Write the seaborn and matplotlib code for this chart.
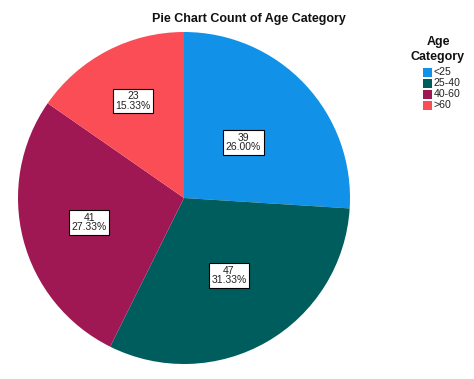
import matplotlib
matplotlib.use("Agg")
import matplotlib.pyplot as plt
import seaborn as sns
import numpy as np

categories = ["<25", "25-40", "40-60", ">60"]
counts = [39, 47, 41, 23]
colors = ["#1192E8", "#005D5D", "#9F1853", "#FA4D56"]
label_radius = [0.49, 0.54, 0.59, 0.66]

sns.set_theme(style="white")
plt.rcParams["font.family"] = ["Liberation Sans", "DejaVu Sans"]

palette = sns.color_palette(colors)
total = sum(counts)

fig = plt.figure(figsize=(4.74, 3.79), dpi=100)
W, H = 474, 379
cx, cy, r = 184, 198, 166
ax = fig.add_axes([(cx - r) / W, (H - cy - r) / H, 2 * r / W, 2 * r / H])

wedges, _ = ax.pie(counts, colors=palette, startangle=90, counterclock=False,
                   radius=1.0, wedgeprops=dict(linewidth=0))
ax.set_xlim(-1, 1)
ax.set_ylim(-1, 1)
ax.set_aspect("equal")
ax.axis("off")

for w, c, lr in zip(wedges, counts, label_radius):
    ang = np.deg2rad((w.theta1 + w.theta2) / 2)
    x, y = lr * np.cos(ang), lr * np.sin(ang)
    ax.text(x, y, f"{c}\n{c / total * 100:.2f}%", ha="center", va="center",
            fontsize=7.5, linespacing=0.95, color="#222222",
            bbox=dict(boxstyle="square,pad=0.25", fc="white", ec="black", lw=0.8))

fig.text(249 / W, 1 - 19 / H, "Pie Chart Count of Age Category", ha="center",
         va="center", fontsize=9, fontweight="bold", color="#111111")

fig.text(438 / W, 1 - 42 / H, "Age", ha="center", va="center",
         fontsize=9, fontweight="bold", color="#111111")
fig.text(438 / W, 1 - 57 / H, "Category", ha="center", va="center",
         fontsize=9, fontweight="bold", color="#111111")

ys = [72, 83, 94, 105]
for cat, col, yy in zip(categories, palette, ys):
    fig.patches.append(plt.Rectangle((423 / W, 1 - (yy + 4.5) / H), 9 / W, 9 / H,
                                     transform=fig.transFigure, fc=col, ec="none"))
    fig.text(434 / W, 1 - yy / H, cat, ha="left", va="center", fontsize=7.6,
             color="#222222")

fig.savefig("out.png", dpi=100)
